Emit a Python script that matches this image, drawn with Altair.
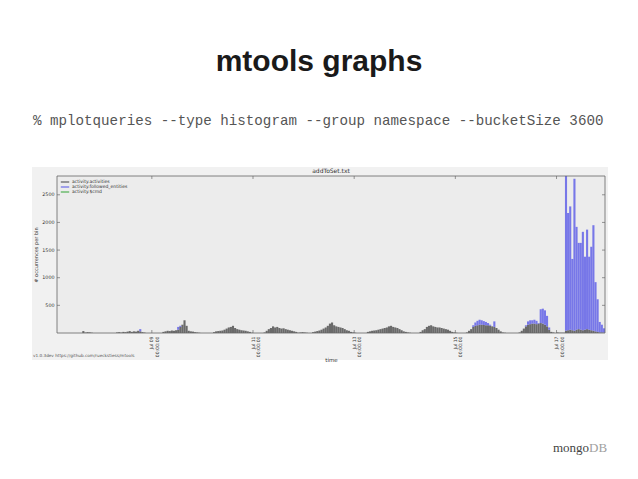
import altair as alt
import pandas as pd

SLIDE_TITLE = "mtools graphs"
COMMAND = "% mplotqueries --type histogram --group namespace --bucketSize 3600"
CHART_TITLE = "addToSet.txt"
FOOTER = "v1.0.3dev https://github.com/rueckstiess/mtools"
Y_TITLE = "# occurrences per bin"
X_TITLE = "time"
SERIES = ["activity.activities", "activity.followed_entities", "activity.$cmd"]
COLORS = ["#5c5c5c", "#6a6ae8", "#4caf50"]
START = "2013-07-07 00:00"
Y_TICKS = [500, 1000, 1500, 2000, 2500]
Y_MAX = 2840
X_TICK_DAYS = [9, 11, 13, 15, 17]

# hourly counts, one row per day (Jul 07 .. Jul 17)
activities = [
    0, 0, 0, 0, 0, 0, 0, 0, 0, 0, 0, 0, 0, 0, 0, 35, 8, 15, 12, 6, 0, 0, 0, 0,
    0, 0, 0, 0, 0, 0, 0, 10, 15, 8, 20, 15, 25, 35, 20, 30, 25, 40, 30, 15, 8, 0, 0, 0,
    0, 0, 0, 0, 0, 20, 30, 40, 35, 45, 40, 50, 60, 110, 150, 230, 130, 40, 30, 25, 15, 10, 5, 0,
    0, 0, 0, 0, 0, 15, 30, 35, 40, 45, 60, 80, 100, 110, 130, 90, 70, 60, 50, 45, 40, 30, 20, 5,
    0, 0, 0, 0, 0, 10, 40, 70, 90, 120, 100, 110, 90, 80, 85, 70, 60, 50, 40, 30, 20, 5, 10, 15,
    10, 5, 0, 0, 15, 25, 35, 45, 60, 80, 100, 130, 170, 190, 140, 120, 110, 100, 90, 70, 50, 40, 20, 10,
    5, 0, 0, 0, 0, 0, 20, 30, 40, 45, 50, 60, 70, 80, 90, 100, 120, 130, 110, 100, 90, 70, 50, 30,
    20, 10, 5, 0, 0, 0, 0, 20, 50, 70, 110, 130, 140, 120, 110, 100, 100, 90, 80, 70, 60, 40, 20, 10,
    5, 0, 0, 0, 0, 10, 40, 70, 110, 130, 140, 150, 150, 145, 140, 140, 130, 120, 110, 90, 60, 30, 10, 5,
    0, 0, 0, 0, 0, 0, 10, 40, 80, 120, 150, 160, 170, 170, 160, 170, 180, 170, 150, 120, 60, 20, 10, 0,
    10, 5, 5, 5, 40, 50, 60, 50, 40, 60, 70, 60, 50, 60, 70, 60, 50, 40, 30, 20, 10, 10, 5, 0,
]

followed_entities = [
    0, 0, 0, 0, 0, 0, 0, 0, 0, 0, 0, 0, 0, 0, 0, 0, 0, 0, 0, 0, 0, 0, 0, 0,
    0, 0, 0, 0, 0, 0, 0, 0, 0, 0, 0, 0, 0, 0, 0, 0, 0, 0, 40, 0, 0, 0, 0, 0,
    0, 0, 0, 0, 0, 0, 0, 0, 0, 0, 0, 0, 50, 20, 0, 0, 0, 0, 0, 0, 0, 0, 0, 0,
    0, 0, 0, 0, 0, 0, 0, 0, 0, 0, 0, 0, 0, 0, 0, 0, 0, 0, 0, 0, 0, 0, 0, 0,
    0, 0, 0, 0, 0, 0, 0, 0, 0, 0, 0, 0, 0, 0, 0, 0, 0, 0, 0, 0, 0, 0, 0, 0,
    0, 0, 0, 0, 0, 0, 0, 0, 0, 0, 0, 0, 0, 0, 0, 0, 0, 0, 0, 0, 0, 0, 0, 0,
    0, 0, 0, 0, 0, 0, 0, 0, 0, 0, 0, 0, 0, 0, 0, 0, 0, 0, 0, 0, 0, 0, 0, 0,
    0, 0, 0, 0, 0, 0, 0, 0, 0, 0, 0, 0, 0, 0, 0, 0, 0, 0, 0, 0, 0, 0, 0, 0,
    0, 0, 0, 0, 0, 0, 0, 0, 30, 60, 80, 90, 80, 70, 60, 40, 20, 0, 100, 0, 0, 0, 0, 0,
    0, 0, 0, 0, 0, 0, 0, 0, 0, 20, 60, 70, 60, 70, 60, 10, 250, 270, 260, 190, 40, 0, 0, 0,
    0, 0, 0, 0, 2800, 2120, 2230, 1290, 2750, 1860, 1560, 1570, 1780, 1320, 1800, 1320, 1510, 1910, 890, 590, 190, 140, 80, 0,
]

cmd = [
    0, 0, 0, 0, 0, 0, 0, 0, 0, 0, 0, 0, 0, 0, 0, 0, 0, 0, 0, 0, 0, 0, 0, 0,
    0, 0, 0, 0, 0, 0, 0, 0, 0, 0, 0, 0, 0, 0, 0, 0, 0, 0, 0, 0, 0, 0, 0, 0,
    0, 0, 0, 0, 0, 0, 0, 0, 0, 0, 0, 0, 0, 0, 0, 0, 0, 0, 0, 0, 0, 0, 0, 0,
    0, 0, 0, 0, 0, 0, 0, 0, 0, 0, 0, 0, 0, 0, 0, 0, 0, 0, 0, 0, 0, 0, 0, 0,
    0, 0, 0, 0, 0, 0, 0, 0, 0, 0, 0, 0, 0, 0, 0, 0, 0, 0, 0, 0, 0, 0, 0, 0,
    0, 0, 0, 0, 0, 0, 0, 0, 0, 0, 0, 0, 0, 0, 0, 0, 0, 0, 0, 0, 0, 0, 0, 0,
    0, 0, 0, 0, 0, 0, 0, 0, 0, 0, 0, 0, 0, 0, 0, 0, 0, 0, 0, 0, 0, 0, 0, 0,
    0, 0, 0, 0, 0, 0, 0, 0, 0, 0, 0, 0, 0, 0, 0, 0, 0, 0, 0, 0, 0, 0, 0, 0,
    0, 0, 0, 0, 0, 0, 0, 0, 0, 0, 0, 0, 0, 0, 0, 0, 0, 0, 0, 0, 0, 0, 0, 0,
    0, 0, 0, 0, 0, 0, 0, 0, 0, 0, 0, 0, 0, 0, 0, 0, 0, 0, 0, 0, 0, 0, 0, 0,
    0, 0, 0, 0, 0, 0, 0, 0, 0, 0, 0, 0, 0, 0, 0, 0, 0, 0, 0, 0, 0, 0, 0, 0,
]

# ---- build table ----
times = pd.date_range(START, periods=len(activities), freq="h")
rows = []
for idx, (name, vals) in enumerate(zip(SERIES, [activities, followed_entities, cmd])):
    for t, v in zip(times, vals):
        rows.append({"start": t, "end": t + pd.Timedelta(hours=1),
                     "count": v, "series": name, "order": idx})
df = pd.DataFrame(rows)

W, H = 548, 157
FONT = "DejaVu Sans"

x_domain = [alt.DateTime(year=2013, month=7, date=7, hours=3),
            alt.DateTime(year=2013, month=7, date=17, hours=23)]
x_tick_values = [alt.DateTime(year=2013, month=7, date=d) for d in X_TICK_DAYS]

x_axis = alt.Axis(
    values=x_tick_values, zindex=2,
    labelExpr="[timeFormat(datum.value, '%b %d'), timeFormat(datum.value, '%H:%M:%S')]",
    labelAngle=270, labelFontSize=4.6, labelLineHeight=5.5, labelPadding=3,
    labelOverlap=False, labelBound=False, labelFlush=False,
    labelColor="#333", labelFont=FONT, tickSize=0, domain=False, grid=False,
    title=X_TITLE, titleFontSize=5.5, titleFont=FONT, titleFontWeight="normal",
    titleColor="#333", titlePadding=1,
)
y_axis = alt.Axis(
    values=Y_TICKS, labelExpr="toString(datum.value)", zindex=2, grid=False,
    domain=False, tickSize=0, labelLimit=100,
    labelPadding=3, labelOverlap=False, labelBound=False, labelFlush=False,
    labelFontSize=4.8, labelFont=FONT, labelColor="#333",
    title=Y_TITLE, titleFontSize=5, titleFont=FONT, titleFontWeight="normal",
    titleColor="#333", titlePadding=3,
)

x_enc = alt.X("start:T", scale=alt.Scale(domain=x_domain), axis=x_axis)
y_enc = alt.Y("y0:Q", scale=alt.Scale(domain=[0, Y_MAX], nice=False), axis=y_axis)

def single(text):
    return alt.Chart(pd.DataFrame({"t": [text]}))

fig_bg = single("bg").mark_rect(color="#f1f1f1").encode(
    x=alt.value(-25), x2=alt.value(551), y=alt.value(-9), y2=alt.value(184))
plot_bg = single("plot").mark_rect(color="#ececec").encode(
    x=alt.value(0), x2=alt.value(W), y=alt.value(0), y2=alt.value(H))

bars = alt.Chart(df).transform_stack(
    stack="count", groupby=["start"], as_=["y0", "y1"],
    sort=[alt.SortField("order", order="ascending")],
).mark_bar(clip=True, opacity=0.9).encode(
    x=x_enc,
    x2="end:T",
    y=y_enc,
    y2="y1:Q",
    color=alt.Color(
        "series:N",
        scale=alt.Scale(domain=SERIES, range=COLORS),
        legend=alt.Legend(
            orient="none", legendX=5, legendY=3, direction="vertical", title=None,
            labelFontSize=4.5, labelFont=FONT, labelColor="#333", labelOffset=4,
            symbolType="M-1.4,-0.22H1.4V0.22H-1.4Z", symbolSize=36,
            symbolStrokeWidth=0, rowPadding=0, padding=0, zindex=2,
        ),
    ),
)

ytick_df = pd.DataFrame({"y0": Y_TICKS})
ytick_left = alt.Chart(ytick_df).mark_rule(color="#555", strokeWidth=0.6).encode(
    y=alt.Y("y0:Q", axis=y_axis), x=alt.value(0), x2=alt.value(3))
ytick_right = alt.Chart(ytick_df).mark_rule(color="#555", strokeWidth=0.6).encode(
    y=alt.Y("y0:Q", axis=y_axis), x=alt.value(W - 3), x2=alt.value(W))
xtick_df = pd.DataFrame({"start": [pd.Timestamp(2013, 7, d) for d in X_TICK_DAYS]})
xtick_bottom = alt.Chart(xtick_df).mark_rule(color="#555", strokeWidth=0.6).encode(
    x=alt.X("start:T", axis=x_axis), y=alt.value(H - 3), y2=alt.value(H))
xtick_top = alt.Chart(xtick_df).mark_rule(color="#555", strokeWidth=0.6).encode(
    x=alt.X("start:T", axis=x_axis), y=alt.value(0), y2=alt.value(3))

frame = single("frame").mark_rect(fillOpacity=0, stroke="#666", strokeWidth=0.8).encode(
    x=alt.value(0), x2=alt.value(W), y=alt.value(0), y2=alt.value(H))

slide_title = single(SLIDE_TITLE).mark_text(
    font="Liberation Sans", fontSize=30, fontWeight="bold", color="#1a1a1a",
    align="center", baseline="middle").encode(text="t:N", x=alt.value(262), y=alt.value(-114))
command = single(COMMAND).mark_text(
    font="Liberation Mono", fontSize=14.2, color="#555",
    align="left", baseline="middle").encode(text="t:N", x=alt.value(-24), y=alt.value(-55))
chart_title = single(CHART_TITLE).mark_text(
    font=FONT, fontSize=6, color="#333", align="center", baseline="bottom").encode(
    text="t:N", x=alt.value(W / 2), y=alt.value(-2))
footer = single(FOOTER).mark_text(
    font=FONT, fontSize=4.2, color="#555", align="left", baseline="middle").encode(
    text="t:N", x=alt.value(-24), y=alt.value(180))
mongo = single("mongo").mark_text(
    font="Liberation Serif", fontSize=13, color="#444", align="right", baseline="middle").encode(
    text="t:N", x=alt.value(532), y=alt.value(272))
db = single("DB").mark_text(
    font="Liberation Serif", fontSize=13, color="#a0a0a0", align="left", baseline="middle").encode(
    text="t:N", x=alt.value(532), y=alt.value(272))

chart = alt.layer(
    fig_bg, plot_bg, bars, ytick_left, ytick_right, xtick_bottom, xtick_top, frame,
    slide_title, command, chart_title, footer, mongo, db,
).properties(
    width=W, height=H,
    padding={"left": 49, "top": 168, "right": 25, "bottom": 138},
    autosize=alt.AutoSizeParams(type="none"),
    background="white",
).configure_view(strokeWidth=0).configure_axis(labelOverlap=False)

chart.save("out.html", embed_options={"renderer": "svg", "actions": False})
